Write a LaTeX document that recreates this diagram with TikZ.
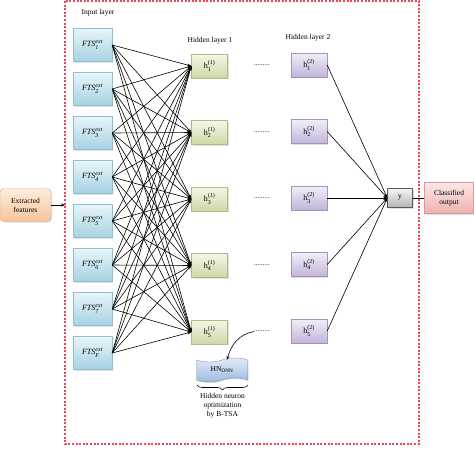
\documentclass[tikz,border=0pt]{standalone}
\usepackage{amsmath}
\usepackage{fontspec}
\setmainfont{Liberation Serif}
\usetikzlibrary{arrows.meta, positioning, calc, shadows, shapes.symbols, decorations.pathreplacing}
\definecolor{frameRed}{HTML}{E8465C}
\definecolor{ftsTop}{HTML}{E8F5F9}
\definecolor{ftsBot}{HTML}{A6D2E2}
\definecolor{ftsLine}{HTML}{8DBFD2}
\definecolor{hoTop}{HTML}{F5F7E8}
\definecolor{hoBot}{HTML}{CCD8A6}
\definecolor{hoLine}{HTML}{AEBB82}
\definecolor{htTop}{HTML}{F2EEF7}
\definecolor{htBot}{HTML}{C2B4D9}
\definecolor{htLine}{HTML}{A393C0}
\definecolor{coTop}{HTML}{FCE6E6}
\definecolor{coBot}{HTML}{EFB0B0}
\definecolor{coLine}{HTML}{DC9898}
\definecolor{efTop}{HTML}{FDEDDD}
\definecolor{efBot}{HTML}{F6C59B}
\definecolor{efLine}{HTML}{E5A676}
\definecolor{hnTop}{HTML}{E4ECF8}
\definecolor{hnBot}{HTML}{9DB8E0}
\tikzset{
    box/.style={draw, inner sep=1pt, drop shadow={opacity=0.25, shadow xshift=1pt, shadow yshift=-1pt}},
    ftsbox/.style={box, draw=ftsLine, top color=ftsTop, bottom color=ftsBot, minimum width=39pt, minimum height=33pt, font=\fontsize{8}{9}\selectfont},
    hidone/.style={box, draw=hoLine, top color=hoTop, bottom color=hoBot, minimum width=36pt, minimum height=24pt, font=\fontsize{8}{9}\selectfont},
    hidtwo/.style={box, draw=htLine, top color=htTop, bottom color=htBot, minimum width=36pt, minimum height=24pt, font=\fontsize{8}{9}\selectfont},
    outbox/.style={box, draw=gray!70!black, top color=gray!8, bottom color=gray!60, minimum width=25pt, minimum height=19pt, font=\fontsize{7.5}{9}\selectfont},
    classbox/.style={box, draw=coLine, top color=coTop, bottom color=coBot, minimum width=49pt, minimum height=31pt, align=center, font=\fontsize{7.5}{9}\selectfont},
    featbox/.style={box, rounded corners=4pt, draw=efLine, top color=efTop, bottom color=efBot, minimum width=51pt, minimum height=33pt, align=center, font=\fontsize{7.5}{9}\selectfont},
    hnbox/.style={tape, tape bend top=in and out, tape bend bottom=in and out, tape bend height=4pt, draw=hnBot!80!black, top color=hnTop, bottom color=hnBot, minimum width=51pt, minimum height=24pt, font=\fontsize{7.5}{9}\selectfont, drop shadow={opacity=0.25, shadow xshift=1pt, shadow yshift=-1pt}},
    conn/.style={-{Stealth[length=4pt, width=3pt]}, line width=0.6pt},
    layerlbl/.style={font=\fontsize{7.5}{9}\selectfont},
    dotlbl/.style={font=\fontsize{7}{8}\selectfont, inner sep=0pt}
}

\begin{document}
\begin{tikzpicture}[x=1pt, y=-1pt]
    \useasboundingbox (0,0) rectangle (474,448);

    % dashed frame
    \draw[frameRed, line width=1.2pt, dash pattern=on 2pt off 1.6pt] (65,1) rectangle (419,444);
    \coordinate (fin) at (65,205);

    % layer titles
    \node[layerlbl] (inlbl) at (98,13) {Input layer};
    \node[layerlbl] (h1lbl) at (210,41) {Hidden layer 1};
    \node[layerlbl] (h2lbl) at (308,38) {Hidden layer 2};

    % input layer
    \foreach \i/\s in {1/1, 2/2, 3/3, 4/4, 5/5, 6/6, 7/7, 8/F}
        \node[ftsbox] (f\i) at (92.5, 1+44*\i) {$\textit{FTS}^{\textit{ext}}_{\textit{\s}}$};

    % hidden layers
    \foreach \j in {1,...,5} {
        \node[hidone] (a\j) at (209.5, -0.5+66.5*\j) {h$_{\text{\j}}^{\text{(1)}}$};
        \node[hidtwo] (b\j) at (309, -1.5+66.5*\j) {h$_{\text{\j}}^{\text{(2)}}$};
        \node[dotlbl] (d\j) at (262, -1+66.5*\j) {.........};
    }

    % output side
    \node[outbox] (y) at (400,198) {y};
    \node[classbox] (co) at (449,198) {Classified\\output};
    \node[featbox] (ef) at (25.5,205) {Extracted\\features};

    % hidden neuron optimization
    \node[hnbox] (hn) at (222,370) {HN$_{\text{DNN}}$};
    \draw[decorate, decoration={brace, mirror, amplitude=5pt}, line width=0.6pt]
        (197,385) -- (248,385) coordinate[midway] (brc);
    \node[layerlbl, align=center, below=5pt of brc] (optlbl) {Hidden neuron\\optimization\\by B-TSA};

    % connections
    \foreach \i in {1,...,8}
        \foreach \j in {1,...,5}
            \draw[conn] (f\i.east) -- (a\j.west);
    \foreach \j in {1,...,5}
        \draw[conn] (b\j.east) -- (y.west);
    \draw[line width=0.6pt] (y.east) -- (co.west);
    \draw[conn] (ef.east) -- (fin);
    \draw[conn] (d5.west) to[out=190, in=75] ([xshift=5pt]hn.north);
\end{tikzpicture}
\end{document}
